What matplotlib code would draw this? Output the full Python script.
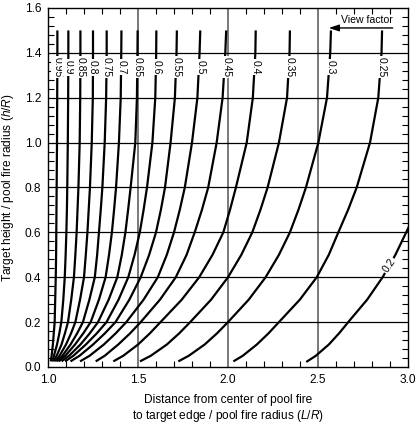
import numpy as np
import matplotlib
matplotlib.use("Agg")
import matplotlib.pyplot as plt
from matplotlib.ticker import MultipleLocator

plt.rcParams['font.family'] = ['Liberation Sans', 'DejaVu Sans']
plt.rcParams['mathtext.fontset'] = 'custom'
plt.rcParams['mathtext.rm'] = 'Liberation Sans'
plt.rcParams['mathtext.it'] = 'Liberation Sans:italic'

h_levels = [0.025, 0.05, 0.1, 0.15, 0.2, 0.3, 0.4, 0.5, 0.6, 0.7, 0.8,
            1.0, 1.2, 1.4, 1.5]

# L/R of each view factor curve at those heights
l_095 = [1.015, 1.020, 1.027, 1.032, 1.037, 1.040, 1.043, 1.045, 1.046, 1.047, 1.048, 1.050, 1.051, 1.052, 1.052]
l_090 = [1.022, 1.033, 1.050, 1.063, 1.074, 1.085, 1.093, 1.098, 1.102, 1.105, 1.107, 1.110, 1.112, 1.113, 1.113]
l_085 = [1.030, 1.048, 1.075, 1.094, 1.111, 1.129, 1.144, 1.152, 1.159, 1.164, 1.169, 1.176, 1.179, 1.180, 1.180]
l_080 = [1.040, 1.064, 1.100, 1.128, 1.152, 1.178, 1.200, 1.210, 1.219, 1.226, 1.233, 1.243, 1.249, 1.250, 1.250]
l_075 = [1.050, 1.080, 1.125, 1.162, 1.194, 1.230, 1.260, 1.273, 1.283, 1.293, 1.302, 1.315, 1.323, 1.326, 1.326]
l_070 = [1.060, 1.096, 1.150, 1.196, 1.237, 1.283, 1.320, 1.339, 1.355, 1.367, 1.378, 1.394, 1.404, 1.407, 1.408]
l_065 = [1.075, 1.117, 1.180, 1.232, 1.278, 1.337, 1.385, 1.410, 1.430, 1.445, 1.459, 1.485, 1.494, 1.497, 1.498]
l_060 = [1.095, 1.141, 1.210, 1.271, 1.325, 1.392, 1.446, 1.481, 1.510, 1.531, 1.550, 1.580, 1.596, 1.601, 1.602]
l_055 = [1.125, 1.175, 1.250, 1.316, 1.375, 1.452, 1.515, 1.562, 1.600, 1.627, 1.650, 1.681, 1.705, 1.714, 1.716]
l_050 = [1.178, 1.231, 1.310, 1.376, 1.435, 1.531, 1.610, 1.660, 1.700, 1.732, 1.760, 1.800, 1.830, 1.842, 1.846]
l_045 = [1.265, 1.315, 1.390, 1.456, 1.515, 1.622, 1.710, 1.770, 1.815, 1.855, 1.890, 1.937, 1.970, 1.985, 1.990]
l_040 = [1.363, 1.418, 1.500, 1.566, 1.625, 1.743, 1.840, 1.914, 1.974, 2.011, 2.044, 2.104, 2.138, 2.152, 2.154]
l_035 = [1.511, 1.571, 1.660, 1.729, 1.790, 1.906, 2.000, 2.074, 2.135, 2.180, 2.220, 2.283, 2.328, 2.342, 2.344]
l_030 = [1.724, 1.782, 1.870, 1.939, 2.000, 2.115, 2.209, 2.283, 2.344, 2.391, 2.433, 2.502, 2.550, 2.568, 2.572]
l_025 = [2.030, 2.082, 2.160, 2.225, 2.283, 2.399, 2.493, 2.560, 2.613, 2.667, 2.715, 2.789, 2.835, 2.853, 2.856]

# the 0.2 curve runs out of the plot on the right
h_020 = [0.025, 0.05, 0.1, 0.15, 0.2, 0.3, 0.4, 0.5, 0.6, 0.7, 0.8]
l_020 = [2.440, 2.488, 2.560, 2.617, 2.668, 2.773, 2.859, 2.930, 2.990, 3.050, 3.110]

vf_labels = ['0.95', '0.9', '0.85', '0.8', '0.75', '0.7', '0.65', '0.6',
             '0.55', '0.5', '0.45', '0.4', '0.35', '0.3', '0.25']
curves = [l_095, l_090, l_085, l_080, l_075, l_070, l_065, l_060,
          l_055, l_050, l_045, l_040, l_035, l_030, l_025]


def main():
    fig = plt.figure(figsize=(4.2, 4.25), dpi=100)
    ax = fig.add_axes([0.1143, 0.1365, 0.8571, 0.8447])

    # grid
    for gx in [1.5, 2.0, 2.5]:
        ax.axvline(gx, color='#555555', lw=1.1, zorder=1)
    for gy in [0.2, 0.4, 0.6, 0.8, 1.0, 1.2, 1.4]:
        ax.axhline(gy, color='black', lw=0.9, zorder=1)

    for lab, xs in zip(vf_labels, curves):
        ax.plot(xs, h_levels, color='black', lw=1.6, zorder=2,
                solid_capstyle='butt', solid_joinstyle='round')
        ax.text(xs[-1], 1.337, lab, rotation=270, ha='center', va='center',
                fontsize=7.5, zorder=3,
                bbox=dict(boxstyle='square,pad=0.12', fc='white', ec='none'))

    ax.plot(l_020, h_020, color='black', lw=1.6, zorder=2,
            solid_joinstyle='round')
    ax.text(2.894, 0.453, '0.2', rotation=55, ha='center', va='center',
            fontsize=7.5, zorder=3,
            bbox=dict(boxstyle='square,pad=0.12', fc='white', ec='none'))

    # "View factor" pointer
    ax.annotate('', xy=(2.56, 1.511), xytext=(2.915, 1.511),
                arrowprops=dict(arrowstyle='-|>,head_length=0.6,head_width=0.2',
                                color='black', lw=1.0, shrinkA=0, shrinkB=0))
    ax.text(2.77, 1.545, 'View factor', ha='center', va='center', fontsize=7.6)

    ax.set_xlim(1.0, 3.0)
    ax.set_ylim(0.0, 1.6)
    ax.xaxis.set_major_locator(MultipleLocator(0.5))
    ax.xaxis.set_minor_locator(MultipleLocator(0.1))
    ax.yaxis.set_major_locator(MultipleLocator(0.2))
    ax.yaxis.set_minor_locator(MultipleLocator(0.04))
    ax.xaxis.set_major_formatter(plt.FormatStrFormatter('%.1f'))
    ax.yaxis.set_major_formatter(plt.FormatStrFormatter('%.1f'))
    ax.tick_params(which='major', length=0, labelsize=8.6, pad=5)
    ax.tick_params(which='minor', direction='in', length=4.5, width=0.8,
                   top=True, right=True)
    for s in ax.spines.values():
        s.set_linewidth(1.0)

    ax.set_xlabel('Distance from center of pool fire\n'
                  'to target edge / pool fire radius ($L$/$R$)',
                  fontsize=8.6, linespacing=1.2, labelpad=6)
    ax.set_ylabel('Target height / pool fire radius ($h$/$R$)',
                  fontsize=8.6, labelpad=6)

    fig.savefig('out.png', dpi=100)


if __name__ == '__main__':
    main()
